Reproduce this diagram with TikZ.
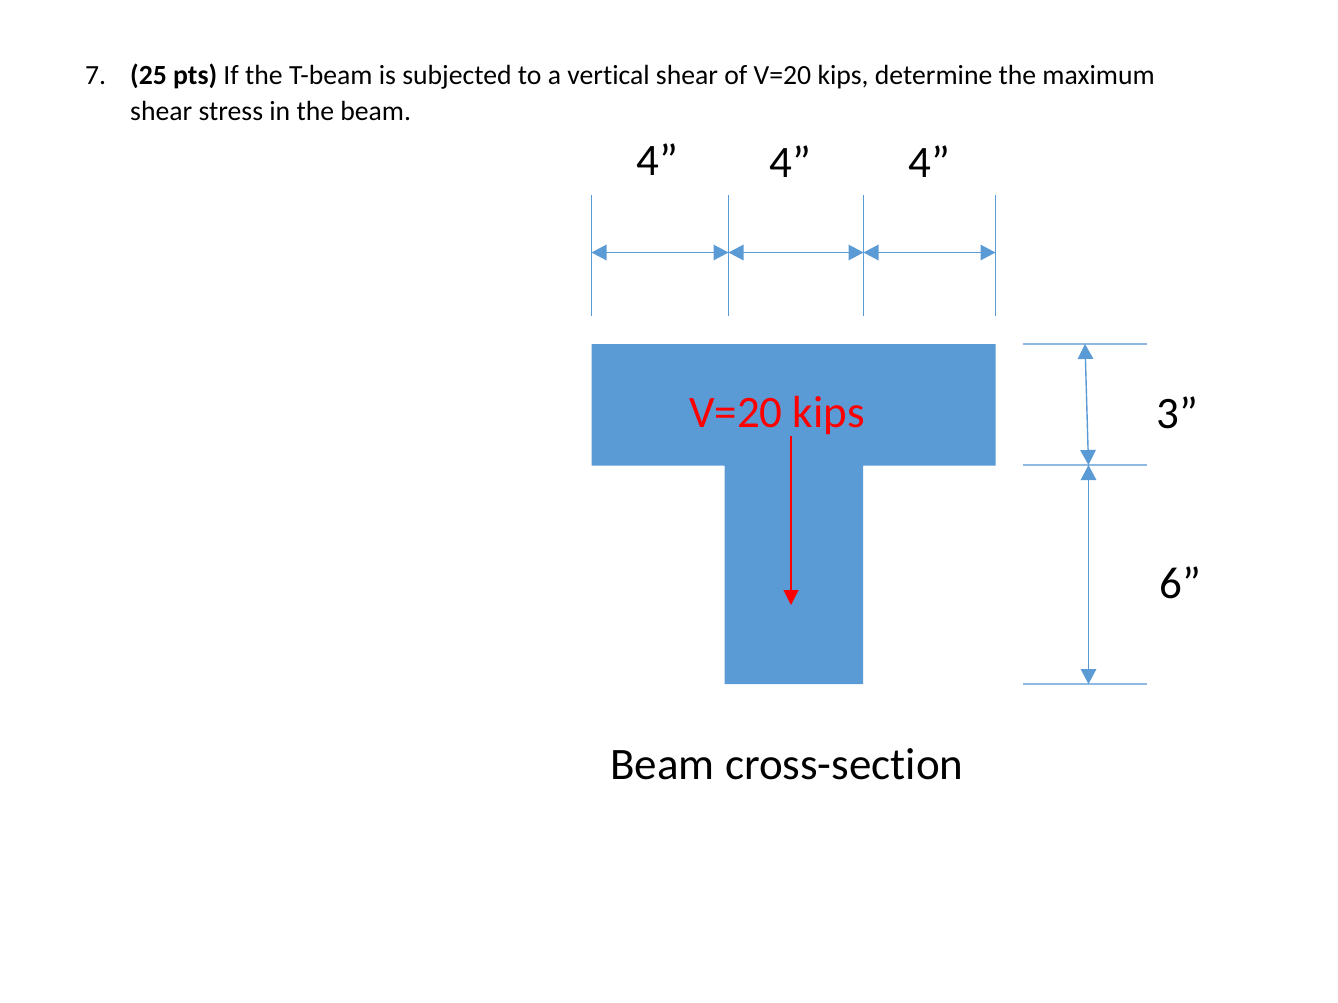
\documentclass[tikz,border=0pt]{standalone}
\usepackage{fontspec}
\setmainfont{Carlito}[Ligatures=NoCommon]
\usetikzlibrary{arrows.meta}
\definecolor{beam}{HTML}{5B9BD5}
\definecolor{tick}{HTML}{8DB9E2}
\tikzset{
  txt/.style={inner sep=0pt,anchor=base west,text=black,font=\fontsize{27.7}{30}\selectfont},
  dimlabel/.style={inner sep=0pt,anchor=base,text=black,font=\fontsize{45}{50}\selectfont},
  dimtick/.style={draw=beam,line width=1.2pt},
  httick/.style={draw=tick,line width=2pt},
  dimline/.style={draw=beam,line width=1.4pt,{Triangle[length=15pt,width=15.5pt,color=beam]}-{Triangle[length=15pt,width=15.5pt,color=beam]}},
  beamshape/.style={fill=beam,draw=none},
  shear/.style={draw=red,line width=1.1pt,-{Triangle[length=15pt,width=15pt]}}
}
\begin{document}
\begin{tikzpicture}[x=1pt,y=-1pt]
\useasboundingbox (0,0) rectangle (1338,1002);
\fill[white] (0,0) rectangle (1338,1002);
\node[txt] (num) at (85,84) {7.};
\node[txt] (l1) at (130,84) {\textbf{(25 pts)} If the T-beam is subjected to a vertical shear of V=20 kips, determine the maximum};
\node[txt] (l2) at (130,120) {shear stress in the beam.};
\node[dimlabel] (w1) at (657,175) {4”};
\node[dimlabel] (w2) at (790,177) {4”};
\node[dimlabel] (w3) at (929,177) {4”};
\foreach \n/\x in {a/591.5,b/728.5,c/863.5,d/995.5}{
  \coordinate (\n t) at (\x,195);
  \coordinate (\n b) at (\x,316);
  \coordinate (\n m) at (\x,252.5);
  \draw[dimtick] (\n t) -- (\n b);
}
\draw[dimline] (am) -- (bm);
\draw[dimline] (bm) -- (cm);
\draw[dimline] (cm) -- (dm);
\draw[beamshape] (591.5,344) -- (995.5,344) -- (995.5,465.5) -- (863,465.5) -- (863,684) -- (724.5,684) -- (724.5,465.5) -- (591.5,465.5) -- cycle;
\coordinate (st) at (791,436);
\coordinate (sb) at (791,605);
\draw[shear] (st) -- (sb);
\node[inner sep=0pt,anchor=base,text=red,font=\fontsize{45}{48}\selectfont] (v) at (777,427) {V=20 kips};
\foreach \n/\y in {p/343.5,q/465,r/684}{
  \coordinate (\n l) at (1023,\y);
  \coordinate (\n r) at (1147,\y);
  \draw[httick] (\n l) -- (\n r);
}
\coordinate (pa) at (1085,344);
\coordinate (qa) at (1088.5,465);
\coordinate (rb) at (1088.5,684);
\draw[dimline] (pa) -- (qa);
\draw[dimline] (qa) -- (rb);
\node[dimlabel] (h1) at (1177,428) {3”};
\node[dimlabel] (h2) at (1180,598) {6”};
\node[inner sep=0pt,anchor=base,text=black,font=\fontsize{45}{48}\selectfont] (cap) at (787,779) {Beam cross-section};
\end{tikzpicture}
\end{document}
